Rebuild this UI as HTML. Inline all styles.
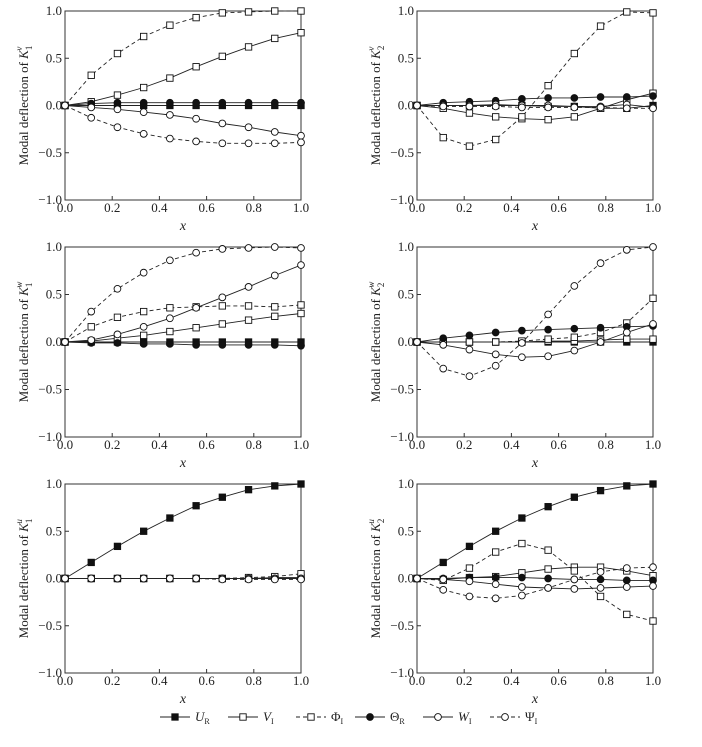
<!DOCTYPE html>
<html><head><meta charset="utf-8"><style>
html,body{margin:0;padding:0;background:#fff}
text{font-family:"Liberation Serif","DejaVu Serif",serif !important;fill:#222}
</style></head><body>
<svg id="s" width="702" height="742" xmlns="http://www.w3.org/2000/svg" font-family="Liberation Serif, DejaVu Serif, serif"></svg>
<script>
const s=document.getElementById('s');let h='';
const P=[
{x0:65,x1:301,t:11,b:200,sub:'1',sup:'v',d:{
UR:[0,0,0,0,0,0,0,0,0,0],
VI:[0,0.04,0.11,0.19,0.29,0.41,0.52,0.62,0.71,0.77],
PH:[0,0.32,0.55,0.73,0.85,0.93,0.98,0.99,1.0,1.0],
TH:[0,0.02,0.03,0.03,0.03,0.03,0.03,0.03,0.03,0.03],
WI:[0,-0.02,-0.04,-0.07,-0.1,-0.14,-0.19,-0.23,-0.28,-0.32],
PS:[0,-0.13,-0.23,-0.3,-0.35,-0.38,-0.4,-0.4,-0.4,-0.39]}},
{x0:417,x1:653,t:11,b:200,sub:'2',sup:'v',d:{
UR:[0,0,0,0,0,-0.01,-0.01,-0.03,-0.03,0],
VI:[0,-0.03,-0.08,-0.12,-0.14,-0.15,-0.12,-0.03,0.06,0.13],
PH:[0,-0.34,-0.43,-0.36,-0.12,0.21,0.55,0.84,0.99,0.98],
TH:[0,0.03,0.04,0.05,0.07,0.08,0.08,0.09,0.09,0.1],
WI:[0,0,0,0.01,0,0,-0.01,-0.01,0.01,-0.02],
PS:[0,-0.01,-0.01,-0.01,-0.02,-0.02,-0.02,-0.02,-0.03,-0.03]}},
{x0:65,x1:301,t:247,b:437,sub:'1',sup:'w',d:{
UR:[0,0,0,0,0,0,0,0,0,0],
VI:[0,0.01,0.04,0.07,0.11,0.15,0.19,0.23,0.27,0.30],
PH:[0,0.16,0.26,0.32,0.36,0.37,0.38,0.38,0.37,0.39],
TH:[0,-0.01,-0.01,-0.02,-0.02,-0.03,-0.03,-0.03,-0.03,-0.04],
WI:[0,0.02,0.08,0.16,0.25,0.36,0.47,0.58,0.70,0.81],
PS:[0,0.32,0.56,0.73,0.86,0.94,0.98,0.99,1.0,0.99]}},
{x0:417,x1:653,t:247,b:437,sub:'2',sup:'w',d:{
UR:[0,0,0,0,0,0,0,0,0,0],
VI:[0,0,0,0,0,0.01,0.01,0.02,0.03,0.03],
PH:[0,0,0,0,0.01,0.03,0.05,0.1,0.2,0.46],
TH:[0,0.04,0.07,0.1,0.12,0.13,0.14,0.15,0.16,0.17],
WI:[0,-0.03,-0.08,-0.13,-0.16,-0.15,-0.09,0,0.1,0.19],
PS:[0,-0.28,-0.36,-0.25,-0.01,0.29,0.59,0.83,0.97,1.0]}},
{x0:65,x1:301,t:484,b:673,sub:'1',sup:'u',d:{
UR:[0,0.17,0.34,0.5,0.64,0.77,0.86,0.94,0.98,1.0],
VI:[0,0,0,0,0,0,0,0,0.01,0.01],
PH:[0,0,0,0,0,0,0,0.01,0.02,0.05],
TH:[0,0,0,0,0,0,0,0,0,0],
WI:[0,0,0,0,0,0,0,0,0,0],
PS:[0,0,0,0,0,0,-0.01,-0.01,-0.01,-0.01]}},
{x0:417,x1:653,t:484,b:673,sub:'2',sup:'u',d:{
UR:[0,0.17,0.34,0.5,0.64,0.76,0.86,0.93,0.98,1.0],
VI:[0,-0.01,0.01,0.02,0.06,0.1,0.12,0.12,0.08,0.03],
PH:[0,-0.02,0.11,0.28,0.37,0.30,0.08,-0.19,-0.38,-0.45],
TH:[0,0,0.01,0.01,0.01,0,-0.01,-0.01,-0.02,-0.02],
WI:[0,-0.01,-0.03,-0.06,-0.09,-0.1,-0.11,-0.1,-0.09,-0.08],
PS:[0,-0.12,-0.19,-0.21,-0.18,-0.1,-0.01,0.07,0.11,0.12]}}];
const ST={UR:['s',1,0],VI:['s',0,0],PH:['s',0,1],TH:['c',1,0],WI:['c',0,0],PS:['c',0,1]};
const FF='font-family="Liberation Serif, DejaVu Serif, serif"';
function mk(t,f,x,y){const fill=f?'#111':'#fff';
 if(t=='s')return `<rect x="${x-3.2}" y="${y-3.2}" width="6.4" height="6.4" fill="${fill}" stroke="#111" stroke-width="0.9"/>`;
 return `<circle cx="${x}" cy="${y}" r="3.4" fill="${fill}" stroke="#111" stroke-width="0.9"/>`;}
for(const p of P){
 const X=v=>p.x0+v*(p.x1-p.x0),Y=v=>(p.t+p.b)/2-v*(p.b-p.t)/2;
 h+=`<rect x="${p.x0}" y="${p.t}" width="${p.x1-p.x0}" height="${p.b-p.t}" fill="none" stroke="#333" stroke-width="1"/>`;
 for(let i=0;i<=5;i++){const x=X(i/5);h+=`<line x1="${x}" y1="${p.b}" x2="${x}" y2="${p.b-4}" stroke="#333"/>`;
  h+=`<text ${FF} x="${x}" y="${p.b+12}" font-size="13" text-anchor="middle">${(i/5).toFixed(1)}</text>`;}
 for(let i=0;i<=4;i++){const v=-1+i*0.5,y=Y(v);h+=`<line x1="${p.x0}" y1="${y}" x2="${p.x0+4}" y2="${y}" stroke="#333"/>`;
  h+=`<text ${FF} x="${p.x0-3}" y="${y+4}" font-size="13" text-anchor="end">${v<0?'−':''}${Math.abs(v).toFixed(1)}</text>`;}
 const cx=(p.x0+p.x1)/2;
 h+=`<text ${FF} x="${cx}" y="${p.b+30}" font-size="14" font-style="italic" text-anchor="middle">x</text>`;
 const lx=p.x0-37,ly=(p.t+p.b)/2;
 h+=`<text ${FF} transform="translate(${lx},${ly}) rotate(-90)" font-size="13" text-anchor="middle">Modal deflection of <tspan font-style="italic">K</tspan><tspan font-size="9" dy="4">${p.sub}</tspan><tspan font-size="9" font-style="italic" dy="-10" dx="-5">${p.sup}</tspan></text>`;
 for(const k in p.d){const a=p.d[k],st=ST[k];
  const pts=a.map((v,i)=>X(i/9).toFixed(1)+','+Y(v).toFixed(1)).join(' ');
  h+=`<polyline points="${pts}" fill="none" stroke="#222" stroke-width="0.9" ${st[2]?'stroke-dasharray="4,3"':''}/>`;}
 for(const k in p.d){const a=p.d[k],st=ST[k];a.forEach((v,i)=>h+=mk(st[0],st[1],X(i/9),Y(v)));}
}
const L=[['UR',160,'U','R'],['VI',228,'V','I'],['PH',296,'Φ','I'],['TH',355,'Θ','R'],['WI',423,'W','I'],['PS',490,'Ψ','I']];
for(const [k,x,n,sb] of L){const st=ST[k],y=717;
 h+=`<line x1="${x}" y1="${y}" x2="${x+30}" y2="${y}" stroke="#222" stroke-width="0.9" ${st[2]?'stroke-dasharray="4,3"':''}/>`;
 h+=mk(st[0],st[1],x+15,y);
 h+=`<text ${FF} x="${x+35}" y="${y+4}" font-size="13"><tspan ${/[UVW]/.test(n)?'font-style="italic"':''}>${n}</tspan><tspan font-size="8" dy="3">${sb}</tspan></text>`;}
s.innerHTML=h;
</script>
</body></html>
